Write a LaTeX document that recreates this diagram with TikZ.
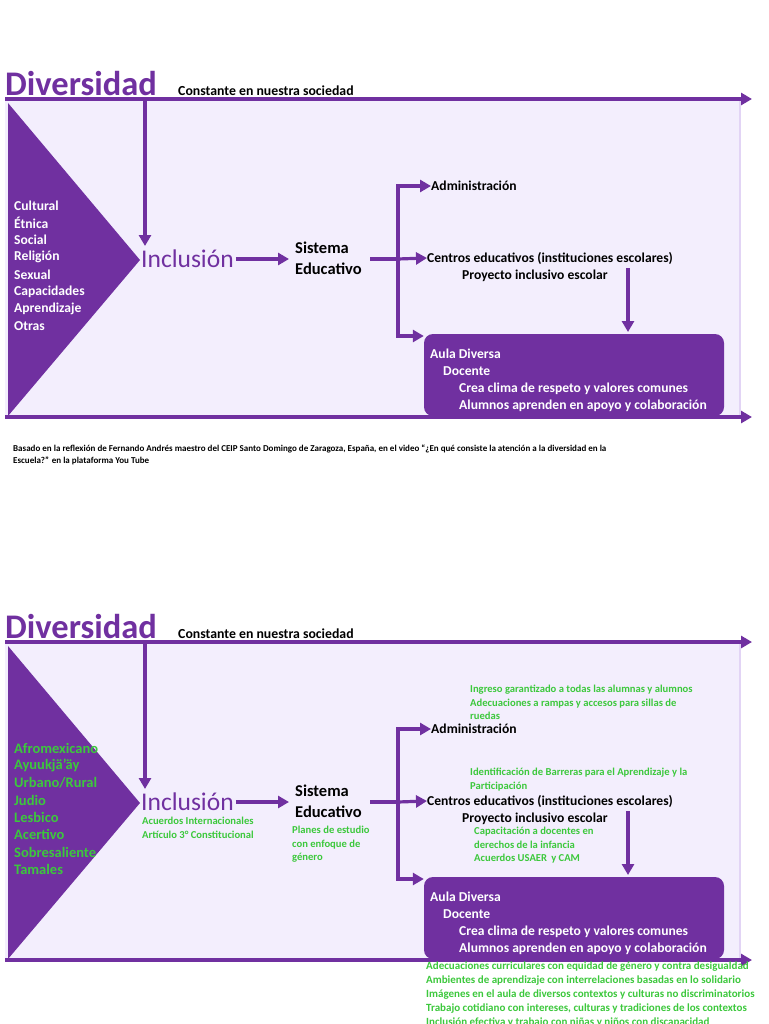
\documentclass[tikz,border=0pt]{standalone}
\usepackage{fontspec}
\setmainfont{Carlito}
\usetikzlibrary{arrows.meta}
\definecolor{pur}{HTML}{7030A0}
\definecolor{lav}{HTML}{F3EEFD}
\definecolor{lavb}{HTML}{E2D4F5}
\definecolor{grn}{HTML}{3CC83C}
\tikzset{
 arr/.style={pur,line width=3.2pt,-{Triangle[length=11pt,width=12pt]}},
 ln/.style={pur,line width=3.2pt},
 bt/.style={font=\bfseries\fontsize{13.6}{16}\selectfont,anchor=west,inner sep=0pt},
 wt/.style={bt,text=white},
 gt/.style={font=\bfseries\fontsize{10.6}{13.5}\selectfont,text=grn,anchor=west,inner sep=0pt,align=left},
}
\newcommand{\diag}[1]{%
\fill[lav] (5,99) rectangle (740,417);
\draw[lavb,line width=1.5pt] (740,99) -- (740,417);
\fill[pur] (8,103) -- (140,260) -- (8,416) -- cycle;
\node[font=\bfseries\fontsize{34.5}{36}\selectfont,text=pur,anchor=west,inner sep=0pt] (div#1) at (5,84) {Diversidad};
\node[bt,font=\bfseries\fontsize{13.8}{16}\selectfont] (cons#1) at (178,91) {Constante en nuestra sociedad};
\coordinate (tl#1) at (5,99); \coordinate (tr#1) at (752,99);
\coordinate (bl#1) at (5,417); \coordinate (br#1) at (752,417);
\draw[arr] (tl#1) -- (tr#1);
\draw[arr] (bl#1) -- (br#1);
\node[font=\fontsize{25.5}{28}\selectfont,text=pur,anchor=west,inner sep=0pt] (inc#1) at (141,259) {Inclusión};
\coordinate (vt#1) at (145,99);
\draw[arr] (vt#1) -- (145,246);
\node[font=\bfseries\fontsize{16.5}{21}\selectfont,anchor=west,inner sep=0pt,align=left] (sis#1) at (295,258) {Sistema\\Educativo};
\draw[arr] (inc#1.east) ++(2pt,0) -- (289,259);
\node[bt] (adm#1) at (431,186) {Administración};
\node[bt] (cen#1) at (427,258) {Centros educativos (instituciones escolares)};
\node[bt] (pro#1) at (462,276) {Proyecto inclusivo escolar};
\node[fill=pur,rounded corners=9pt,minimum width=300pt,minimum height=82pt,inner sep=0pt] (aula#1) at (574,375) {};
\node[wt] (a1#1) at (430,354) {Aula Diversa};
\node[wt] (a2#1) at (443,371) {Docente};
\node[wt] (a3#1) at (459,389) {Crea clima de respeto y valores comunes};
\node[wt] (a4#1) at (459,406) {Alumnos aprenden en apoyo y colaboración};
\coordinate (bs#1) at (370,259);
\coordinate (pd#1) at (628,268);
\draw[ln] (bs#1) -- (398,259);
\draw[ln] (398,186) -- (398,336);
\draw[arr] (396.4,186) -- (adm#1.west);
\draw[arr] (398,259) -- (cen#1.west);
\draw[arr] (396.4,336) -- (aula#1.west|-0,336);
\draw[arr] (pd#1) -- (628,332);
}
\begin{document}
\begin{tikzpicture}[x=1pt,y=-1pt]
\useasboundingbox[fill=white] (0,0) rectangle (768,1024);
\diag{A}
\foreach \t [count=\i] in {Cultural,Étnica,Social,Religión,Sexual,Capacidades,Aprendizaje,Otras}
  \node[wt] (l\i) at (14,188+17.3*\i) {\t};
\node[font=\bfseries\fontsize{9}{12}\selectfont,anchor=north west,inner sep=0pt,align=left] (foot) at (13,445) {Basado en la reflexión de Fernando Andrés maestro del CEIP Santo Domingo de Zaragoza, España, en el video “¿En qué consiste la atención a la diversidad en la\\Escuela?” en la plataforma You Tube};
\begin{scope}[shift={(0,543)}]
\diag{B}
\foreach \t [count=\i] in {Afromexicano,Ayuukjä’äy,Urbano/Rural,Judio,Lesbico,Acertivo,Sobresaliente,Tamales}
  \node[wt,text=grn,font=\bfseries\fontsize{14.5}{16}\selectfont] (g\i) at (14,188+17.3*\i) {\t};
\node[gt,anchor=north west] (gi) at (142,274) {Acuerdos Internacionales\\Artículo 3° Constitucional};
\node[gt,anchor=north west] (gp) at (292,283) {Planes de estudio\\con enfoque de\\género};
\node[gt,anchor=north west] (ga) at (470,142) {Ingreso garantizado a todas las alumnas y alumnos\\Adecuaciones a rampas y accesos para sillas de\\ruedas};
\node[gt,anchor=north west] (gb) at (470,225) {Identificación de Barreras para el Aprendizaje y la\\Participación};
\node[gt,anchor=north west] (gc) at (474,284) {Capacitación a docentes en\\derechos de la infancia\\Acuerdos USAER\, y CAM};
\node[gt,anchor=north west,font=\bfseries\fontsize{11}{13.8}\selectfont] (gd) at (426,419) {Adecuaciones curriculares con equidad de género y contra desigualdad\\Ambientes de aprendizaje con interrelaciones basadas en lo solidario\\Imágenes en el aula de diversos contextos y culturas no discriminatorios\\Trabajo cotidiano con intereses, culturas y tradiciones de los contextos\\Inclusión efectiva y trabajo con niñas y niños con discapacidad};
\end{scope}
\end{tikzpicture}
\end{document}
